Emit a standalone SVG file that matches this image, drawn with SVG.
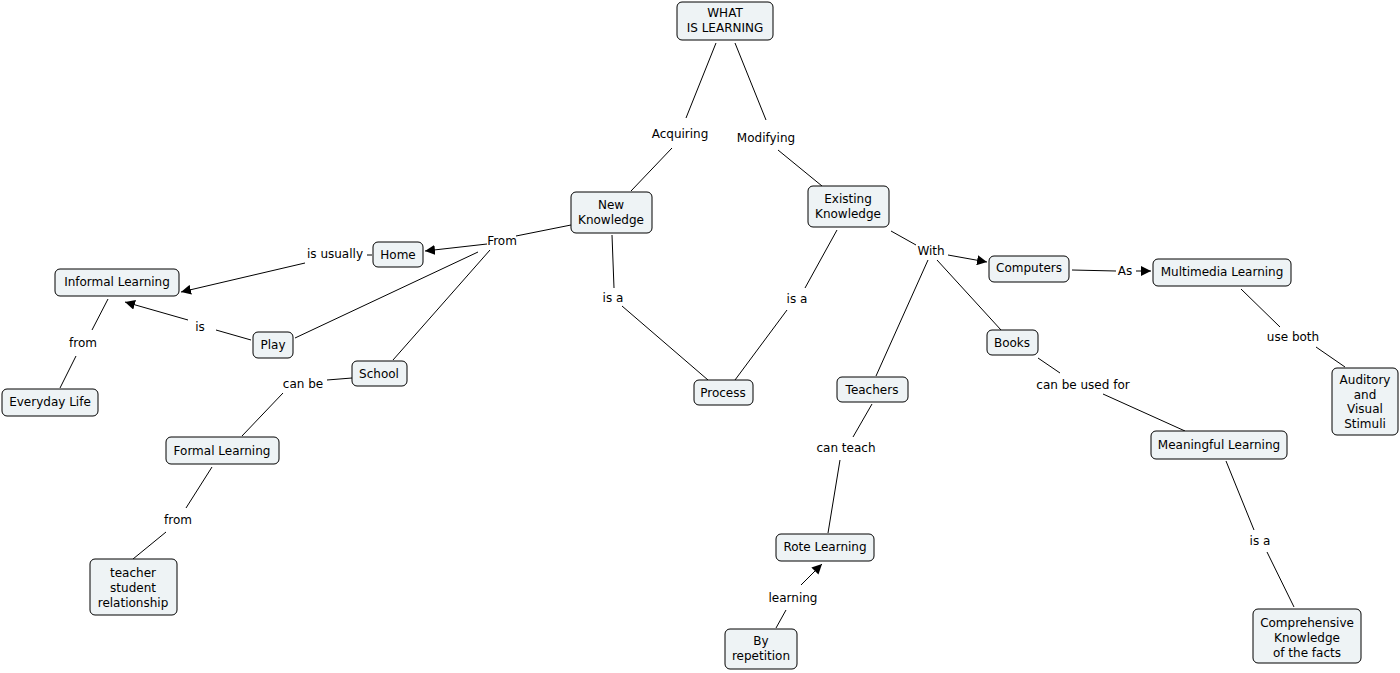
<svg xmlns="http://www.w3.org/2000/svg" width="1400" height="673" viewBox="0 0 1400 673">
<style>
.n rect{fill:#eef3f5;stroke:#000;stroke-width:1}
text{font-family:"DejaVu Sans",Verdana,sans-serif;font-size:12px;fill:#000;text-anchor:middle}
.c line{stroke:#000;stroke-width:1}
</style>
<defs><marker id="a" viewBox="0 0 10 10" refX="10" refY="5" markerWidth="10" markerHeight="10" markerUnits="userSpaceOnUse" orient="auto"><path d="M0,0L10,5L0,10z" fill="#000"/></marker></defs>
<rect width="1400" height="673" fill="#fff"/>
<g class="c">
<line x1="716" y1="43" x2="686" y2="118"/><line x1="672" y1="148" x2="631" y2="191"/>
<line x1="735" y1="43" x2="766" y2="120"/><line x1="778" y1="150" x2="822" y2="186"/>
<line x1="571" y1="225" x2="516" y2="236"/>
<line x1="487" y1="244" x2="425" y2="251" marker-end="url(#a)"/>
<line x1="478" y1="252" x2="295" y2="338"/>
<line x1="490" y1="250" x2="393" y2="360"/>
<line x1="367" y1="255" x2="372" y2="255"/>
<line x1="305" y1="263" x2="181" y2="292" marker-end="url(#a)"/>
<line x1="251" y1="340" x2="216" y2="330"/>
<line x1="188" y1="320" x2="125" y2="302" marker-end="url(#a)"/>
<line x1="108" y1="299" x2="92" y2="330"/><line x1="76" y1="356" x2="60" y2="388"/>
<line x1="352" y1="378" x2="327" y2="380"/><line x1="283" y1="393" x2="242" y2="436"/>
<line x1="212" y1="467" x2="186" y2="508"/><line x1="166" y1="532" x2="133" y2="559"/>
<line x1="612" y1="235" x2="614" y2="288"/><line x1="622" y1="306" x2="708" y2="380"/>
<line x1="837" y1="230" x2="805" y2="288"/><line x1="787" y1="310" x2="735" y2="380"/>
<line x1="891" y1="231" x2="916" y2="245"/>
<line x1="948" y1="255" x2="987" y2="262" marker-end="url(#a)"/>
<line x1="928" y1="260" x2="876" y2="376"/>
<line x1="937" y1="260" x2="1001" y2="330"/>
<line x1="1072" y1="270" x2="1116" y2="271"/>
<line x1="1136" y1="271" x2="1151" y2="271" marker-end="url(#a)"/>
<line x1="1241" y1="289" x2="1280" y2="327"/><line x1="1316" y1="347" x2="1345" y2="367"/>
<line x1="1038" y1="358" x2="1060" y2="373"/><line x1="1103" y1="394" x2="1185" y2="431"/>
<line x1="872" y1="404" x2="853" y2="437"/><line x1="840" y1="460" x2="828" y2="533"/>
<line x1="776" y1="628" x2="786" y2="610"/>
<line x1="801" y1="585" x2="822" y2="564" marker-end="url(#a)"/>
<line x1="1226" y1="461" x2="1254" y2="530"/><line x1="1267" y1="552" x2="1294" y2="607"/>
</g>
<g id="labels">
<text x="680" y="138">Acquiring</text><text x="766" y="142">Modifying</text>
<text x="502" y="245">From</text><text x="335" y="258">is usually</text>
<text x="200" y="331">is</text><text x="83" y="347">from</text>
<text x="303" y="388">can be</text><text x="178" y="524">from</text>
<text x="613" y="302">is a</text><text x="797" y="303">is a</text>
<text x="931" y="255">With</text><text x="1125" y="275">As</text>
<text x="1293" y="341">use both</text><text x="1083" y="389">can be used for</text>
<text x="846" y="452">can teach</text><text x="793" y="602">learning</text>
<text x="1260" y="545">is a</text>
</g>
<g id="n1" class="n"><rect x="677" y="2" width="96" height="38" rx="5"/><text x="725" y="17">WHAT</text><text x="725" y="32">IS LEARNING</text></g>
<g id="n2" class="n"><rect x="571" y="192" width="81" height="41" rx="5"/><text x="611" y="209">New</text><text x="611" y="224">Knowledge</text></g>
<g id="n3" class="n"><rect x="808" y="186" width="81" height="41" rx="5"/><text x="848" y="203">Existing</text><text x="848" y="218">Knowledge</text></g>
<g id="n4" class="n"><rect x="373" y="242" width="50" height="25" rx="5"/><text x="398" y="259">Home</text></g>
<g id="n5" class="n"><rect x="55" y="269" width="124" height="27" rx="5"/><text x="117" y="286">Informal Learning</text></g>
<g id="n6" class="n"><rect x="253" y="332" width="40" height="26" rx="5"/><text x="273" y="349">Play</text></g>
<g id="n7" class="n"><rect x="352" y="361" width="55" height="25" rx="5"/><text x="379" y="378">School</text></g>
<g id="n8" class="n"><rect x="2" y="389" width="96" height="27" rx="5"/><text x="50" y="406">Everyday Life</text></g>
<g id="n9" class="n"><rect x="166" y="437" width="113" height="27" rx="5"/><text x="222" y="455">Formal Learning</text></g>
<g id="n10" class="n"><rect x="90" y="559" width="87" height="56" rx="5"/><text x="133" y="577">teacher</text><text x="133" y="592">student</text><text x="133" y="607">relationship</text></g>
<g id="n11" class="n"><rect x="694" y="380" width="59" height="25" rx="5"/><text x="723" y="397">Process</text></g>
<g id="n12" class="n"><rect x="989" y="256" width="80" height="26" rx="5"/><text x="1029" y="272">Computers</text></g>
<g id="n13" class="n"><rect x="1153" y="259" width="138" height="27" rx="5"/><text x="1222" y="276">Multimedia Learning</text></g>
<g id="n14" class="n"><rect x="987" y="330" width="51" height="25" rx="5"/><text x="1012" y="347">Books</text></g>
<g id="n15" class="n"><rect x="1332" y="368" width="66" height="67" rx="5"/><text x="1365" y="384">Auditory</text><text x="1365" y="399">and</text><text x="1365" y="413">Visual</text><text x="1365" y="428">Stimuli</text></g>
<g id="n16" class="n"><rect x="837" y="377" width="71" height="25" rx="5"/><text x="872" y="394">Teachers</text></g>
<g id="n17" class="n"><rect x="1151" y="431" width="136" height="28" rx="5"/><text x="1219" y="449">Meaningful Learning</text></g>
<g id="n18" class="n"><rect x="776" y="534" width="98" height="27" rx="5"/><text x="825" y="551">Rote Learning</text></g>
<g id="n19" class="n"><rect x="725" y="629" width="72" height="40" rx="5"/><text x="761" y="645">By</text><text x="761" y="660">repetition</text></g>
<g id="n20" class="n"><rect x="1253" y="609" width="108" height="54" rx="5"/><text x="1307" y="627">Comprehensive</text><text x="1307" y="642">Knowledge</text><text x="1307" y="657">of the facts</text></g>
</svg>
